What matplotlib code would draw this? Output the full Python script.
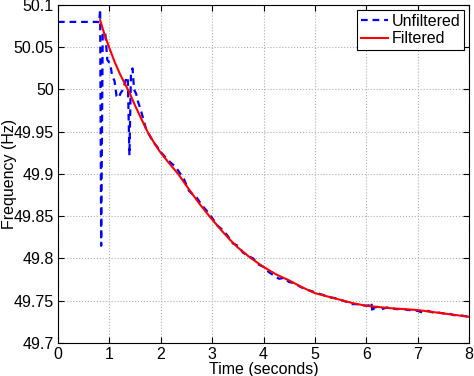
import matplotlib
matplotlib.use("Agg")
import matplotlib.pyplot as plt
import numpy as np

plt.rcParams['font.family'] = ['Liberation Sans', 'DejaVu Sans']

# filtre (ligne rouge)
t_filt = [0.82, 0.9, 1.0, 1.1, 1.2, 1.3, 1.4, 1.5, 1.6, 1.75, 1.9, 2.0, 2.2, 2.34, 2.5,
          2.75, 2.96, 3.2, 3.35, 3.5, 3.74, 4.0, 4.25, 4.5, 4.75, 5.0, 5.25, 5.5, 5.75,
          6.0, 6.5, 7.0, 7.5, 8.0]
f_filt = [50.082, 50.066, 50.049, 50.033, 50.019, 50.007, 49.995, 49.981, 49.968, 49.949,
          49.934, 49.925, 49.910, 49.900, 49.886, 49.865, 49.849, 49.832, 49.822, 49.813,
          49.801, 49.790, 49.781, 49.774, 49.766, 49.759, 49.755, 49.751, 49.747, 49.744,
          49.741, 49.739, 49.735, 49.731]

# non filtre (tirets bleus)
t_raw = [0.0, 0.78, 0.80, 0.82, 0.84, 0.87, 0.92, 0.96, 1.02, 1.05, 1.10, 1.14, 1.18, 1.22,
         1.27, 1.31, 1.34, 1.36, 1.39, 1.42, 1.45, 1.48, 1.52, 1.56, 1.60, 1.66, 1.72, 1.78,
         1.85, 1.92, 2.0, 2.1, 2.2, 2.28, 2.35, 2.45, 2.55, 2.62, 2.7, 2.8, 2.9, 3.0, 3.1,
         3.2, 3.3, 3.4, 3.5, 3.6, 3.7, 3.8, 3.9, 4.0, 4.1, 4.2, 4.3, 4.4, 4.5, 4.6, 4.7, 4.8,
         4.9, 5.0, 5.1, 5.2, 5.3, 5.4, 5.5, 5.6, 5.7, 5.8, 5.9, 6.0, 6.08, 6.1, 6.12, 6.15,
         6.25, 6.3, 6.4, 6.5, 6.6, 6.7, 6.8, 6.9, 7.0, 7.1, 7.2, 7.3, 7.4, 7.5, 7.6, 7.7, 7.8,
         7.9, 8.0]
f_raw = [50.080, 50.080, 50.079, 50.095, 49.815, 50.068, 50.066, 50.035, 50.030, 50.017,
         50.010, 49.992, 49.990, 49.996, 50.000, 50.010, 50.015, 50.010, 49.922, 50.020,
         50.025, 50.000, 49.995, 49.985, 49.978, 49.965, 49.952, 49.946, 49.938, 49.933,
         49.926, 49.919, 49.913, 49.909, 49.903, 49.894, 49.880, 49.876, 49.872, 49.863,
         49.856, 49.848, 49.839, 49.834, 49.827, 49.818, 49.815, 49.807, 49.803, 49.800,
         49.793, 49.790, 49.784, 49.780, 49.776, 49.777, 49.772, 49.771, 49.767, 49.764,
         49.762, 49.760, 49.758, 49.756, 49.754, 49.753, 49.751, 49.749, 49.746, 49.746,
         49.745, 49.744, 49.745, 49.748, 49.736, 49.742, 49.743, 49.740, 49.742, 49.741,
         49.740, 49.741, 49.739, 49.739, 49.738, 49.736, 49.738, 49.736, 49.736, 49.735,
         49.735, 49.733, 49.733, 49.732, 49.731]

xticks = [0, 1, 2, 3, 4, 5, 6, 7, 8]
yticks = [49.7, 49.75, 49.8, 49.85, 49.9, 49.95, 50.0, 50.05, 50.1]
ylabels = ['49.7', '49.75', '49.8', '49.85', '49.9', '49.95', '50', '50.05', '50.1']

fig = plt.figure(figsize=(4.74, 3.76), dpi=100)
ax = fig.add_axes([0.1224, 0.0878, 0.8671, 0.8989])

ax.plot(t_raw, f_raw, color=(0, 0, 1), linestyle='--', linewidth=1.6, dashes=(3, 2.2), label='Unfiltered')
ax.plot(t_filt, f_filt, color=(1, 0, 0), linewidth=1.5, label='Filtered')

ax.set_xlim(0, 8)
ax.set_ylim(49.7, 50.1)
ax.set_xticks(xticks)
ax.set_yticks(yticks)
ax.set_yticklabels(ylabels)
ax.tick_params(direction='in', top=True, right=True, labelsize=11.5, length=4, pad=3)
ax.grid(True, color='#b0b0b0', linestyle=':', linewidth=0.8)
for s in ax.spines.values():
    s.set_linewidth(0.8)

ax.set_xlabel('Time (seconds)', fontsize=11.5, labelpad=0)
ax.set_ylabel('Frequency (Hz)', fontsize=11.5)
ax.yaxis.set_label_coords(-0.1, 0.5)

leg = ax.legend(loc='upper right', fontsize=11.5, handlelength=1.7, handletextpad=0.2,
                borderpad=0.25, labelspacing=0.15, fancybox=False, framealpha=1,
                borderaxespad=0.3)
leg.get_frame().set_edgecolor('black')
leg.get_frame().set_linewidth(0.8)

fig.savefig('out.png', dpi=100)
